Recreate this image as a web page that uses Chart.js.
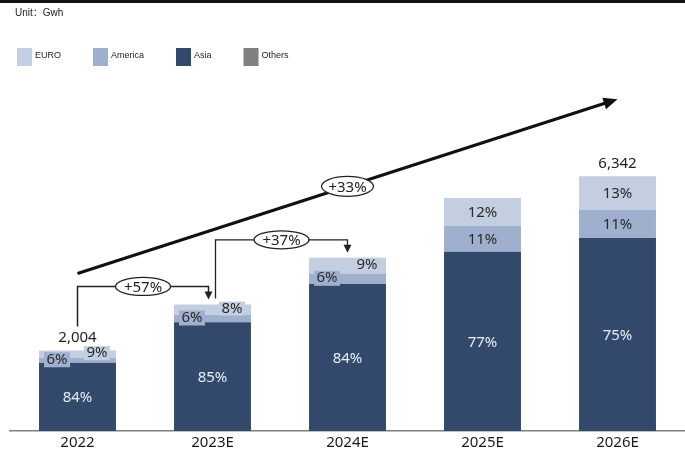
<!DOCTYPE html>
<html>
<head>
<meta charset="utf-8">
<script src="https://cdn.jsdelivr.net/npm/chart.js@4/dist/chart.umd.min.js"></script>
<style>
  body { margin: 0; background: #fff; }
</style>
</head>
<body>
<canvas id="batteryChart" width="685" height="455"></canvas>
<script>
// data
const years = ["2022", "2023E", "2024E", "2025E", "2026E"];
const totals = [2004, 3150, 4310, 5740, 6342];
const totalLabels = ["2,004", "", "", "", "6,342"];
const asiaShare = [84, 85, 84, 77, 75];
const americaShare = [6, 6, 6, 11, 11];
const euroShare = [9, 8, 9, 12, 13];
const othersShare = [0, 0, 0, 0, 0];
const growthSteps = [
  { from: 0, to: 1, text: "+57%" },
  { from: 1, to: 2, text: "+37%" },
];
const cagrText = "+33%";
const legendOrder = ["EURO", "America", "Asia", "Others"];

const FONT = '"Noto Sans", "DejaVu Sans", sans-serif';

function gwh(shares) {
  return shares.map((s, i) => (totals[i] * s) / 100);
}

const stackTops = totals.map(
  (t, i) => (t * (asiaShare[i] + americaShare[i] + euroShare[i] + othersShare[i])) / 100
);

// background, top rule, unit text and legend
const decorPlugin = {
  id: "decor",
  beforeDraw(chart) {
    const ctx = chart.ctx;
    ctx.save();
    ctx.fillStyle = "#fff";
    ctx.fillRect(0, 0, chart.width, chart.height);
    ctx.fillStyle = "#111";
    ctx.fillRect(0, 0, chart.width, 3);

    ctx.fillStyle = "#222";
    ctx.textBaseline = "middle";
    ctx.font = '10px "Liberation Sans", "Noto Sans CJK SC", sans-serif';
    ctx.fillText("Unit：Gwh", 15, 13);

    ctx.font = '9px "Liberation Sans", sans-serif';
    let x = 17;
    legendOrder.forEach((name) => {
      const ds = chart.data.datasets.find((d) => d.label === name);
      ctx.fillStyle = ds.backgroundColor;
      ctx.fillRect(x, 48, 15, 18);
      ctx.fillStyle = "#222";
      ctx.fillText(name, x + 18, 56);
      x += 18 + ctx.measureText(name).width + 32;
    });
    ctx.restore();
  },
};

function drawArrowHead(ctx, x, y, angle, len, half) {
  ctx.save();
  ctx.translate(x, y);
  ctx.rotate(angle);
  ctx.beginPath();
  ctx.moveTo(0, 0);
  ctx.lineTo(-len, -half);
  ctx.lineTo(-len, half);
  ctx.closePath();
  ctx.fill();
  ctx.restore();
}

function drawBubble(ctx, x, y, w, h, text) {
  ctx.beginPath();
  ctx.ellipse(x, y, w / 2, h / 2, 0, 0, Math.PI * 2);
  ctx.fillStyle = "#fff";
  ctx.fill();
  ctx.lineWidth = 1.3;
  ctx.strokeStyle = "#222";
  ctx.stroke();
  ctx.fillStyle = "#222";
  ctx.font = "15px " + FONT;
  ctx.textAlign = "center";
  ctx.textBaseline = "middle";
  ctx.fillText(text, x, y + 1);
}

// percentage labels, totals and growth arrows
const labelPlugin = {
  id: "labels",
  afterDatasetsDraw(chart) {
    const ctx = chart.ctx;
    const xs = chart.scales.x;
    const ys = chart.scales.y;
    const asiaMeta = chart.getDatasetMeta(0);
    const amMeta = chart.getDatasetMeta(1);
    const euMeta = chart.getDatasetMeta(2);
    ctx.save();
    ctx.font = "15px " + FONT;
    ctx.textAlign = "center";
    ctx.textBaseline = "middle";

    years.forEach((_, i) => {
      const a = asiaMeta.data[i];
      const am = amMeta.data[i];
      const eu = euMeta.data[i];
      const left = a.x - a.width / 2;
      const right = a.x + a.width / 2;

      ctx.fillStyle = "#e8edf4";
      ctx.fillText(asiaShare[i] + "%", a.x, (a.y + a.base) / 2 + 1);

      const amText = americaShare[i] + "%";
      const euText = euroShare[i] + "%";
      const amMid = (am.y + am.base) / 2;
      const euMid = (eu.y + eu.base) / 2;
      if (am.base - am.y >= 14) {
        ctx.fillStyle = "#2a2a2a";
        ctx.fillText(amText, am.x, amMid + 1);
        ctx.fillText(euText, eu.x, euMid + 1);
      } else {
        const amX = left + 18;
        const euX = right - 19;
        const amW = ctx.measureText(amText).width + 5;
        const euW = ctx.measureText(euText).width + 5;
        ctx.fillStyle = chart.data.datasets[2].backgroundColor;
        ctx.fillRect(euX - euW / 2, euMid - 1 - 7, euW, 14);
        ctx.fillStyle = chart.data.datasets[1].backgroundColor;
        ctx.fillRect(amX - amW / 2, amMid - 1 - 7, amW, 15);
        ctx.fillStyle = "#2a2a2a";
        ctx.fillText(euText, euX, euMid - 1);
        ctx.fillText(amText, amX, amMid - 1);
      }

      if (totalLabels[i]) {
        ctx.textBaseline = "alphabetic";
        ctx.fillStyle = "#222";
        ctx.fillText(totalLabels[i], a.x, ys.getPixelForValue(stackTops[i]) - 8);
        ctx.textBaseline = "middle";
      }
    });

    // year-on-year brackets
    ctx.strokeStyle = "#222";
    ctx.fillStyle = "#222";
    ctx.lineWidth = 1.5;
    growthSteps.forEach((g) => {
      const x0 = xs.getPixelForValue(g.from) + (g.from > 0 ? 3 : 0);
      const x1 = xs.getPixelForValue(g.to) - (growthSteps.some((s) => s.from === g.to) ? 4 : 0);
      const top0 = ys.getPixelForValue(stackTops[g.from]);
      const top1 = ys.getPixelForValue(stackTops[g.to]);
      const y0 = top0 - (totalLabels[g.from] ? 24 : 6);
      const level = top1 - 18;
      const tip = top1 - 5;
      ctx.beginPath();
      ctx.moveTo(x0, y0);
      ctx.lineTo(x0, level);
      ctx.lineTo(x1, level);
      ctx.lineTo(x1, tip - 6);
      ctx.stroke();
      ctx.fillStyle = "#222";
      drawArrowHead(ctx, x1, tip, Math.PI / 2, 8, 4);
      drawBubble(ctx, (x0 + x1) / 2, level, 55, 18, g.text);
    });

    // overall growth arrow
    const n = years.length - 1;
    const sx = xs.getPixelForValue(0);
    const sy = ys.getPixelForValue(stackTops[0]) - 77;
    const ex = xs.getPixelForValue(n);
    const ey = ys.getPixelForValue(stackTops[n]) - 77;
    const ang = Math.atan2(ey - sy, ex - sx);
    ctx.lineWidth = 3;
    ctx.strokeStyle = "#111";
    ctx.beginPath();
    ctx.moveTo(sx, sy);
    ctx.lineTo(ex - 10 * Math.cos(ang), ey - 10 * Math.sin(ang));
    ctx.stroke();
    ctx.fillStyle = "#111";
    drawArrowHead(ctx, ex, ey, ang, 14, 6);
    drawBubble(ctx, (sx + ex) / 2, (sy + ey) / 2, 52, 20, cagrText);

    ctx.restore();
  },
};

const ctx = document.getElementById("batteryChart").getContext("2d");
const batteryChart = new Chart(ctx, {
  type: "bar",
  data: {
    labels: years,
    datasets: [
      { label: "Asia", data: gwh(asiaShare), backgroundColor: "#32496b" },
      { label: "America", data: gwh(americaShare), backgroundColor: "#9eb0cd" },
      { label: "EURO", data: gwh(euroShare), backgroundColor: "#c3cee0" },
      { label: "Others", data: gwh(othersShare), backgroundColor: "#808080" },
    ],
  },
  options: {
    responsive: false,
    animation: false,
    layout: { padding: { top: 82, left: 10, right: 0, bottom: 0 } },
    datasets: {
      bar: { categoryPercentage: 1, barPercentage: 0.57, borderWidth: 0 },
    },
    scales: {
      x: {
        stacked: true,
        grid: { display: false, drawTicks: false },
        border: { display: true, color: "#7f7f7f", width: 1.5 },
        ticks: {
          padding: 3,
          color: "#1a1a1a",
          font: { family: FONT, size: 15 },
        },
      },
      y: {
        stacked: true,
        display: false,
        min: 0,
        max: 8600,
      },
    },
    plugins: {
      legend: { display: false },
      title: { display: false },
      tooltip: { enabled: false },
    },
  },
  plugins: [decorPlugin, labelPlugin],
});
</script>
</body>
</html>
